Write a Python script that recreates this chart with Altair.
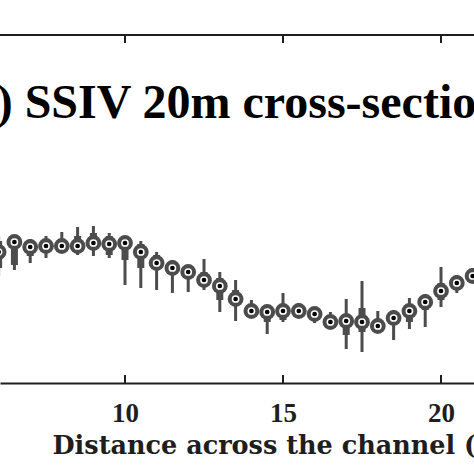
import altair as alt
import pandas as pd

# Distance across the channel (m), one box every half metre
distance = [6.0, 6.5, 7.0, 7.5, 8.0, 8.5, 9.0, 9.5, 10.0, 10.5, 11.0, 11.5,
            12.0, 12.5, 13.0, 13.5, 14.0, 14.5, 15.0, 15.5, 16.0, 16.5, 17.0,
            17.5, 18.0, 18.5, 19.0, 19.5, 20.0, 20.5, 21.0]
median = [1.31, 1.41, 1.36, 1.37, 1.37, 1.37, 1.40, 1.39, 1.40, 1.31, 1.20,
          1.15, 1.11, 1.03, 0.97, 0.84, 0.72, 0.71, 0.72, 0.72, 0.69, 0.61,
          0.62, 0.61, 0.57, 0.65, 0.72, 0.81, 0.92, 1.00, 1.07]
q3 = [1.42, 1.45, 1.42, 1.42, 1.42, 1.47, 1.50, 1.47, 1.46, 1.39, 1.28,
      1.21, 1.17, 1.11, 1.05, 0.93, 0.79, 0.77, 0.79, 0.78, 0.75, 0.68,
      0.68, 0.75, 0.63, 0.71, 0.78, 0.87, 1.00, 1.05, 1.13]
q1 = [1.15, 1.18, 1.27, 1.31, 1.33, 1.31, 1.33, 1.28, 1.23, 1.15, 1.15,
      1.10, 1.07, 0.97, 0.83, 0.77, 0.68, 0.61, 0.63, 0.67, 0.64, 0.57,
      0.48, 0.51, 0.52, 0.58, 0.61, 0.73, 0.83, 0.93, 1.01]
whisker_hi = [1.47, 1.47, 1.44, 1.47, 1.51, 1.56, 1.57, 1.50, 1.46, 1.42,
              1.31, 1.23, 1.18, 1.24, 1.11, 1.03, 0.83, 0.78, 0.90, 0.80,
              0.76, 0.71, 0.84, 1.02, 0.72, 0.73, 0.85, 0.89, 1.16, 1.08, 1.15]
whisker_lo = [1.07, 1.13, 1.20, 1.25, 1.30, 1.28, 1.27, 1.25, 0.98, 0.95,
              0.93, 0.90, 0.91, 0.93, 0.71, 0.62, 0.66, 0.49, 0.61, 0.65,
              0.60, 0.55, 0.34, 0.31, 0.50, 0.43, 0.54, 0.56, 0.76, 0.90, 1.00]
tick_values = [10, 15, 20]

title_text = "(b) SSIV 20m cross-section"
x_title = "Distance across the channel (m)"

W, H = 474, 348
GREY = "#4c4c4c"
INK = "#1e1e1e"

df = pd.DataFrame({
    "d": distance, "med": median, "q1": q1, "q3": q3,
    "lo": whisker_lo, "hi": whisker_hi,
})
ticks_df = pd.DataFrame({"t": tick_values})
one = pd.DataFrame({"k": [0]})

x_scale = alt.Scale(domain=[6.044, 21.044], nice=False, zero=False)
y_scale = alt.Scale(domain=[0, 3.48], nice=False, zero=False)

x_axis = alt.Axis(
    values=tick_values, format="d", grid=False, ticks=False, tickSize=0,
    domain=True, domainColor=INK, domainWidth=2,
    labelFont="Liberation Serif", labelFontWeight="bold", labelFontSize=27,
    labelColor=INK, labelBaseline="alphabetic", labelPadding=38,
    title=x_title, titleFont="DejaVu Serif", titleFontWeight="bold",
    titleFontSize=25.5, titleColor=INK, titleAlign="left",
    titleBaseline="alphabetic", titleX=52, titleY=70,
)

base = alt.Chart(df)

whiskers = base.mark_rule(color=GREY, strokeWidth=3).encode(
    x=alt.X("d:Q", scale=x_scale, axis=x_axis),
    y=alt.Y("lo:Q", scale=y_scale, axis=None),
    y2="hi:Q",
)
boxes = base.mark_rule(color=GREY, strokeWidth=7).encode(
    x="d:Q", y="q1:Q", y2="q3:Q",
)
ring = base.mark_circle(color=GREY, size=250, opacity=1).encode(x="d:Q", y="med:Q")
hole = base.mark_circle(color="white", size=60, opacity=1).encode(x="d:Q", y="med:Q")
dot = base.mark_circle(color="black", size=22, opacity=1).encode(x="d:Q", y="med:Q")

top_ticks = alt.Chart(ticks_df).mark_rule(color=INK, strokeWidth=2).encode(
    x="t:Q", y=alt.value(0), y2=alt.value(8),
)
bottom_ticks = alt.Chart(ticks_df).mark_rule(color=INK, strokeWidth=2).encode(
    x="t:Q", y=alt.value(H), y2=alt.value(H - 8),
)
top_line = alt.Chart(one).mark_rule(color=INK, strokeWidth=2).encode(
    x=alt.value(0), x2=alt.value(W), y=alt.value(0),
)
title = alt.Chart(one).mark_text(
    text=title_text, font="Liberation Serif", fontWeight="bold", fontSize=48,
    align="left", baseline="alphabetic", color="black",
).encode(x=alt.value(-46), y=alt.value(83))

chart = alt.layer(
    whiskers, boxes, ring, hole, dot, top_ticks, bottom_ticks, top_line, title
).properties(
    width=W, height=H,
    autosize=alt.AutoSizeParams(type="none"),
    padding={"left": 0, "top": 35, "right": 0, "bottom": 91},
    background="white",
).configure_view(stroke=None)

chart.save("out.html", embed_options={"renderer": "svg", "actions": False})
